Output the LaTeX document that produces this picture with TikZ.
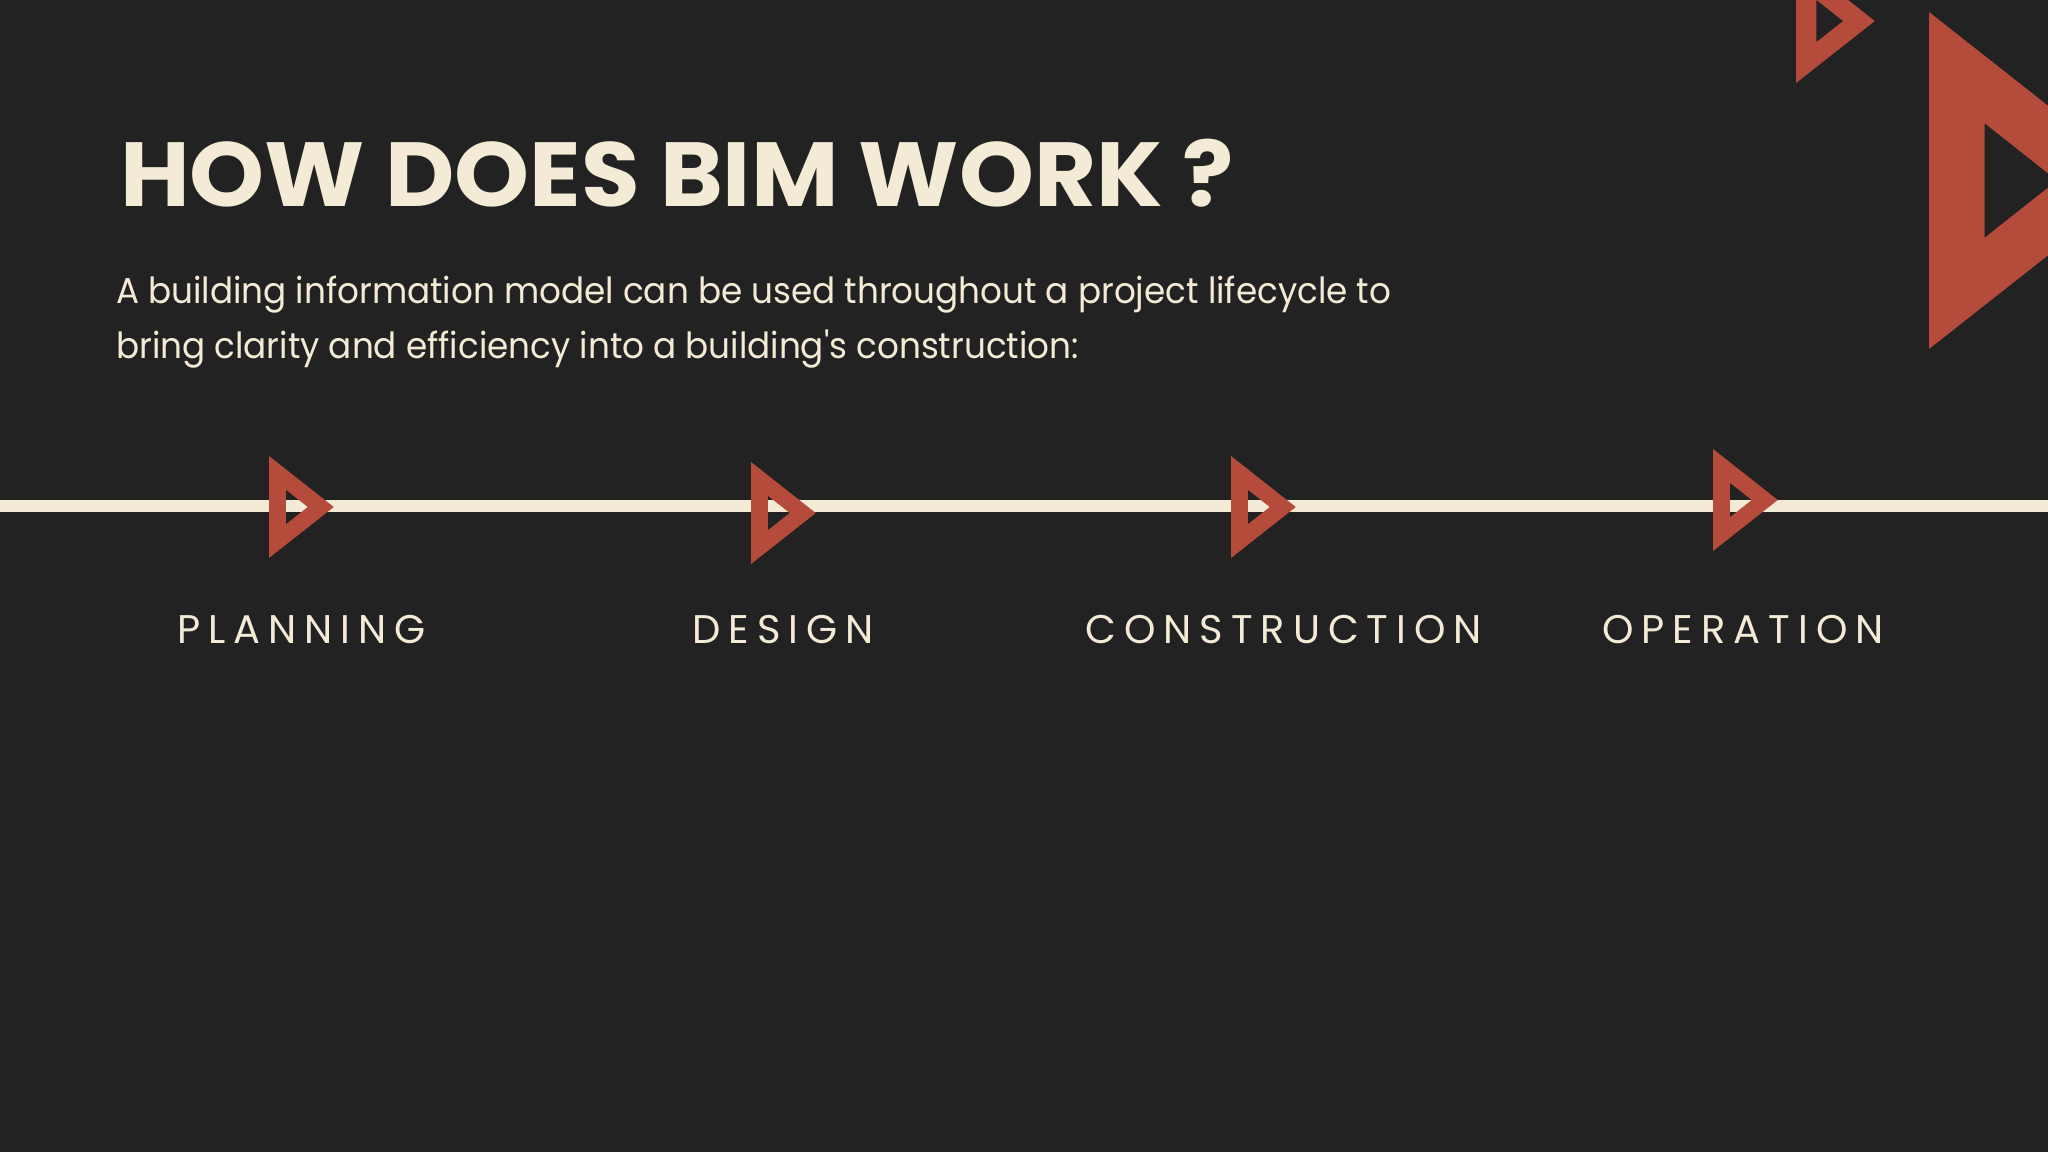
\documentclass[tikz,border=0pt]{standalone}
\usepackage{fontspec}
\setmainfont{Poppins}
\newfontfamily\titlefont{Poppins}[UprightFont=* Bold,FakeStretch=1.048]
\newfontfamily\subfont{Poppins}[FakeStretch=0.95,Ligatures=TeXOff]
\newfontfamily\labelfont{Poppins}[LetterSpace=20]
\definecolor{bg}{HTML}{222222}
\definecolor{rust}{HTML}{B44B3B}
\definecolor{cream}{HTML}{F4EBD6}
\tikzset{
  ringtri/.pic={\fill[rust,even odd rule] (0,-1) -- (0,1) -- (1.27,0) -- cycle (0.33,-0.34) -- (0.33,0.34) -- (0.76,0) -- cycle;},
  txt/.style={inner sep=0pt,anchor=base west,text=cream},
  lbl/.style={txt,font=\labelfont\fontsize{40}{44}\selectfont},
  subtxt/.style={txt,font=\subfont\fontsize{36}{40}\selectfont},
}
\begin{document}
\begin{tikzpicture}[x=1pt,y=-1pt]
\useasboundingbox (0,0) rectangle (2048,1152);
\fill[bg] (0,0) rectangle (2048,1152);
\clip (0,0) rectangle (2048,1152);
% corner decorations
\pic[scale=62] at (1796,21) {ringtri};
\pic[scale=168.5] at (1929,180.5) {ringtri};
% title and subtitle
\node[txt,font=\titlefont\fontsize{91}{100}\selectfont] (title) at (120,206) {HOW DOES BIM WORK ?};
\node[subtxt] (sub1) at (116,303) {A building information model can be used throughout a project lifecycle to};
\node[subtxt] (sub2) at (116,358) {bring clarity and efficiency into a building's construction:};
% timeline
\coordinate (lstart) at (0,506);
\coordinate (lend) at (2048,506);
\draw[cream,line width=12pt] (lstart) -- (lend);
\coordinate (t1) at (269,507);
\coordinate (t2) at (751,513);
\coordinate (t3) at (1231,507);
\coordinate (t4) at (1713,500);
\pic[scale=51] at (t1) {ringtri};
\pic[scale=51] at (t2) {ringtri};
\pic[scale=51] at (t3) {ringtri};
\pic[scale=51] at (t4) {ringtri};
% labels
\node[lbl] (planning) at (177,643) {PLANNING};
\node[lbl] (design) at (692,643) {DESIGN};
\node[lbl] (construction) at (1085,643) {CONSTRUCTION};
\node[lbl] (operation) at (1602,643) {OPERATION};
\end{tikzpicture}
\end{document}
